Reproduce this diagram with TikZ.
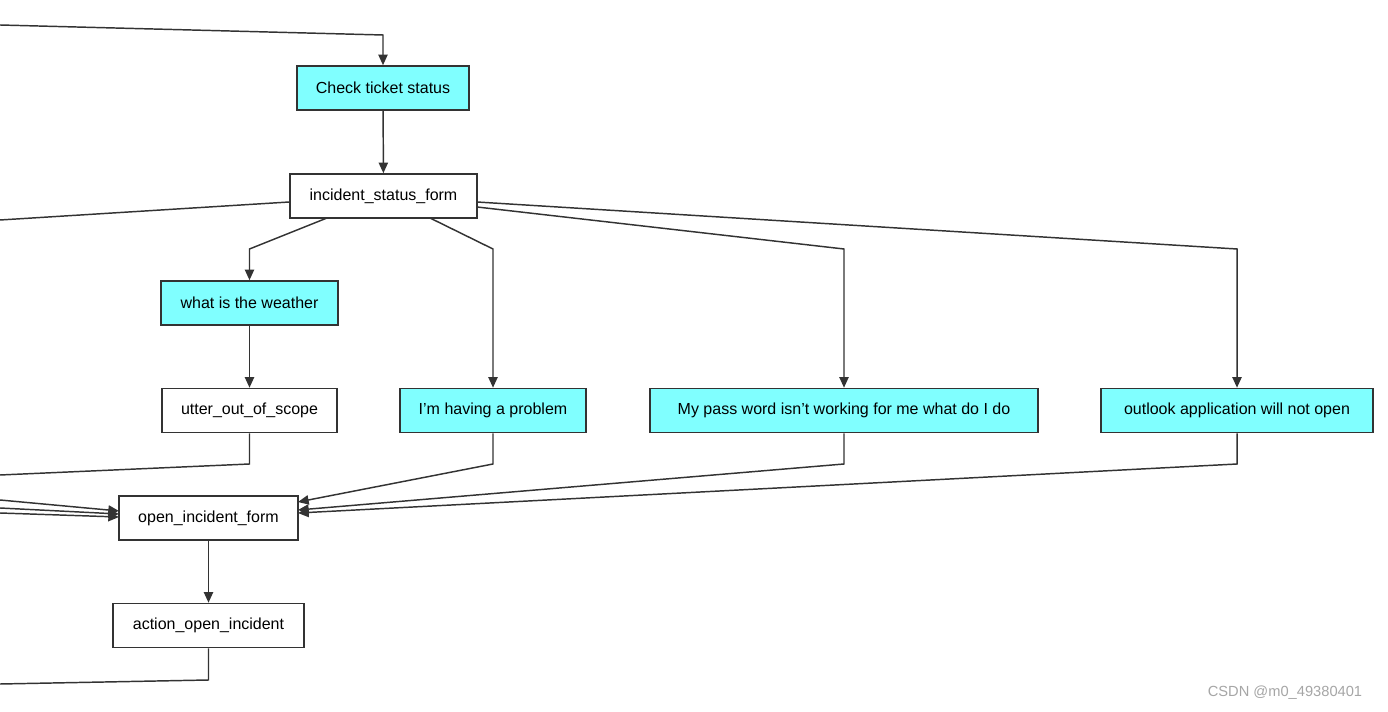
\documentclass[tikz,border=0pt]{standalone}
\usepackage{fontspec}
\setmainfont{Liberation Sans}
\usetikzlibrary{arrows.meta}
\definecolor{cy}{HTML}{80FFFF}
\definecolor{ln}{HTML}{333333}
\begin{document}
\begin{tikzpicture}[x=0.75pt,y=-0.75pt,
  box/.style={draw=ln,line width=1.2pt,minimum height=44*0.75pt,inner sep=0pt,font=\fontsize{12}{14}\selectfont,anchor=center},
  cbox/.style={box,fill=cy},
  wbox/.style={box,fill=white},
  ar/.style={draw=ln,line width=1.1pt,-{Triangle[length=8pt,width=7pt]}},
  pl/.style={draw=ln,line width=1.1pt}]
\useasboundingbox[fill=white] (0,0) rectangle (1388,712);
\node[cbox,minimum width=172*0.75pt] (cts) at (383,88) {Check ticket status};
\node[wbox,minimum width=187*0.75pt] (isf) at (383.5,196) {incident\_status\_form};
\node[cbox,minimum width=177*0.75pt] (wea) at (249.5,303) {what is the weather};
\node[wbox,minimum width=175*0.75pt] (uos) at (249.5,410.5) {utter\_out\_of\_scope};
\node[cbox,minimum width=186*0.75pt] (prb) at (493,410.5) {I'm having a problem};
\node[cbox,minimum width=388*0.75pt] (pwd) at (844,410.5) {My pass word isn't working for me what do I do};
\node[cbox,minimum width=272*0.75pt] (out) at (1237,410.5) {outlook application will not open};
\node[wbox,minimum width=179*0.75pt] (oif) at (208.5,518) {open\_incident\_form};
\node[wbox,minimum width=191*0.75pt] (aoi) at (208.5,625.5) {action\_open\_incident};
\coordinate (l1) at (0,25); \coordinate (l2) at (0,220); \coordinate (l3) at (0,475);
\coordinate (l4) at (0,500); \coordinate (l5) at (0,508); \coordinate (l6) at (0,513);
\coordinate (l7) at (0,684);
\draw[ar] (l1) -- (383,35) -- (cts.north);
\draw[ar] (cts) -- (isf);
\draw[pl] (isf.west |- 0,202) -- (l2);
\draw[ar] (327,218) -- (249.5,249) -- (wea.north);
\draw[ar] (430,218) -- (493,249) -- (prb.north);
\draw[ar] (477,207) -- (844,249) -- (pwd.north);
\draw[ar] (477,202) -- (1237,249) -- (out.north);
\draw[ar] (wea) -- (uos);
\draw[pl] (uos.south) -- (249.5,464) -- (l3);
\draw[ar] (prb.south) -- (493,464) -- (298,502);
\draw[ar] (pwd.south) -- (844,464) -- (298,510);
\draw[ar] (out.south) -- (1237,464) -- (298,513);
\draw[ar] (l4) -- (119,511);
\draw[ar] (l5) -- (119,514);
\draw[ar] (l6) -- (119,517);
\draw[ar] (oif) -- (aoi);
\draw[pl] (aoi.south) -- (208.5,680) -- (l7);
\node[text=gray!70,font=\fontsize{11}{13}\selectfont] (wm) at (1285,693) {CSDN @m0\_49380401};
\end{tikzpicture}
\end{document}
